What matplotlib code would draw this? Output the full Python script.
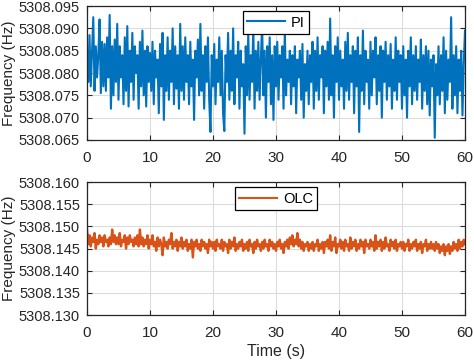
import numpy as np
import matplotlib
matplotlib.use("Agg")
import matplotlib.pyplot as plt

plt.rcParams['font.family'] = ['Liberation Sans', 'DejaVu Sans']

# PI frequency, offset from 5308 Hz in mHz
pi_mhz = [
    84, 78, 88.5, 77, 85, 92.5, 76, 86, 79, 84, 92, 75.5, 87, 77, 86.5, 76, 88, 79, 93, 72, 86, 75, 87.5, 78, 91,
    74, 86, 79, 84, 73, 88, 76, 90.5, 72.5, 85, 78, 89, 74, 86, 80, 84, 72, 87, 77, 89.5, 75, 85, 72.5, 86, 78,
    84.5, 76, 87, 73, 85, 79, 83, 71, 86.5, 77, 89, 69.5, 84, 76, 88, 74, 85, 78, 90, 73, 86, 76.5, 84, 72, 91,
    76, 86, 74, 88, 78, 84, 73, 87, 77, 83, 69.5, 85, 79, 87.5, 75, 91, 76, 84, 72, 86, 78, 88, 74, 66.8, 84,
    77, 86.5, 73, 83, 78, 88, 75, 85, 71, 67, 84, 78, 89, 74, 85, 76, 90, 73, 84, 79, 87, 72, 85, 77, 82,
    66.4, 86, 75, 89, 74, 84, 78, 90.5, 72, 85, 76, 87, 74, 83, 91, 75, 85, 70, 86, 78, 88, 73, 84, 69.5, 86,
    77, 87, 74, 84, 79, 86, 72, 89.5, 75, 83, 78, 85, 73, 84, 77, 86, 71, 83, 79, 85, 74, 86.5, 70, 82, 76,
    85, 73, 84, 78, 87, 72, 85, 76, 88, 74, 84, 79, 86, 71, 85, 77, 87, 74, 92.2, 75, 84, 70, 86, 78, 88,
    74, 85, 77, 83, 72, 87, 76, 89, 74, 84, 78, 86, 71, 85, 77, 88, 66.8, 84, 76, 89.5, 73, 85, 78, 83, 72,
    87, 75, 85, 79, 88, 73, 84, 76, 86, 70, 85, 78, 87, 74, 84, 77, 86.5, 72, 83, 76, 88, 74, 85, 78, 84,
    72, 86, 75, 83, 70, 85, 77, 88, 73, 84, 76, 86, 74, 83, 78, 87.5, 72, 84, 76, 86, 73, 85, 70.5, 83, 77,
    84, 65.5, 82, 75, 86, 73, 84, 76, 88, 71, 85, 74, 83, 78, 92.5, 72, 84, 75, 86, 71, 83, 76, 85, 70.5, 82,
    89.5,
]

# OLC frequency, offset from 5308 Hz in mHz
olc_mhz = [
    149.5, 146, 148, 145.5, 147.5, 146.5, 148.5, 145, 147, 146, 148, 146.5, 147.5, 145.5, 148, 146.5, 147, 145.5, 147.5, 146, 149.3, 146.5, 148, 146, 147.5,
    146, 148.5, 145.5, 147, 146.5, 148, 145, 147.5, 146, 148, 146.5, 147, 145.5, 147.5, 146, 148, 145.5, 149.3, 146, 147.5, 145.5, 147, 146, 148, 145,
    147, 146, 148, 145.5, 146.5, 144.5, 147.5, 145.5, 147, 146, 143.5, 147.5, 145.5, 146.5, 145, 147, 146, 148.5, 145, 146.5, 145.5, 147, 144.5, 146.5, 145.5,
    147.5, 145, 146.5, 145.5, 147, 144.5, 146, 145, 147, 143, 146.5, 145.5, 147, 145, 146, 144.5, 147, 145.5, 146.5, 145, 146, 144, 147, 145.5, 146.5,
    145, 146.5, 144.5, 147, 145.5, 146, 145, 147, 144.5, 146.5, 145.5, 146, 144, 147, 145, 146.5, 145.5, 147.5, 144.5, 146, 145, 146.5, 145.5, 147, 144.5,
    146, 145, 146.5, 144.5, 147, 145.5, 146, 144, 146.5, 145, 147, 145.5, 146, 144.5, 146.5, 145, 147, 145.5, 146, 144.5, 147, 145.5, 146.5, 145, 146,
    144.5, 146.5, 145.5, 147, 145, 146, 144, 146.5, 145.5, 147, 145, 147.5, 146, 148, 145.5, 147, 146, 148.5, 145.5, 147, 145, 146.5, 144.5, 146, 145.5,
    146.5, 144.5, 146, 145, 146.5, 144.5, 146, 145.5, 147, 144.5, 146, 145, 146.5, 144, 146.5, 145.5, 147, 145, 148, 144.5, 146.5, 145.5, 147.5, 144, 146,
    145.5, 147, 145, 146.5, 144.5, 147, 145.5, 146, 144.5, 147.5, 145, 146.5, 145.5, 147, 144.5, 146, 145, 147, 145.5, 146.5, 144, 147, 145.5, 146, 145,
    147, 145.5, 146.5, 144.5, 148, 145, 146.5, 145.5, 147, 144.5, 146.5, 145, 147.5, 145.5, 146, 144.5, 147, 145.5, 146.5, 145, 147, 144.5, 146, 145.5, 146.5,
    145, 146.5, 144.5, 146, 145.5, 147, 144.5, 146, 145, 146.5, 145.5, 147, 144.5, 146, 145, 146.5, 144, 146, 145.5, 147, 144.5, 146, 145, 146.5, 145,
    146, 144.5, 146.5, 145, 146, 144, 145.5, 144.5, 146, 143.5, 145.5, 144.5, 146, 143.8, 145.5, 144.5, 146.5, 145, 146, 144.5, 147, 145, 146.5, 145.5, 147,
    146,
]

base_hz = 5308.0
x_ticks = [0, 10, 20, 30, 40, 50, 60]
pi_yticks = [5308.065, 5308.070, 5308.075, 5308.080, 5308.085, 5308.090, 5308.095]
olc_yticks = [5308.130, 5308.135, 5308.140, 5308.145, 5308.150, 5308.155, 5308.160]

t_pi = np.linspace(0, 60, len(pi_mhz))
t_olc = np.linspace(0, 60, len(olc_mhz))
y_pi = base_hz + np.array(pi_mhz) / 1000.0
y_olc = base_hz + np.array(olc_mhz) / 1000.0

fig = plt.figure(figsize=(4.74, 3.62), dpi=100)
ax1 = fig.add_axes([0.1835, 0.6133, 0.7975, 0.370])
ax2 = fig.add_axes([0.1835, 0.1298, 0.7975, 0.367])

spine_c = '#262626'
for ax, t, y, col, lab, yt, lw in [
    (ax1, t_pi, y_pi, '#0072BD', 'PI', pi_yticks, 1.5),
    (ax2, t_olc, y_olc, '#D95319', 'OLC', olc_yticks, 1.7),
]:
    ax.plot(t, y, color=col, linewidth=lw, label=lab)
    ax.set_xlim(0, 60)
    ax.set_ylim(yt[0], yt[-1])
    ax.set_xticks(x_ticks)
    ax.set_yticks(yt)
    ax.set_yticklabels([f"{v:.3f}" for v in yt])
    ax.grid(True, color='#dcdcdc', linewidth=0.8)
    ax.set_axisbelow(True)
    ax.tick_params(direction='in', top=True, right=True, length=3.5,
                   labelsize=10.5, colors=spine_c, pad=5)
    ax.tick_params(axis='x', pad=8, labelsize=11)
    for s in ax.spines.values():
        s.set_color(spine_c)
        s.set_linewidth(0.9)
    ax.set_ylabel('Frequency (Hz)', fontsize=11, color=spine_c, labelpad=2)
    leg = ax.legend(loc='upper center', fontsize=10.5, fancybox=False,
                    edgecolor='black', framealpha=1, borderpad=0.3,
                    handlelength=2.6, handletextpad=0.4, borderaxespad=0.35)
    leg.get_frame().set_linewidth(0.9)
    for h in leg.get_lines():
        h.set_linewidth(1.5)

ax2.set_xlabel('Time (s)', fontsize=11.5, color=spine_c, labelpad=3)

fig.savefig('out.png', dpi=100)
